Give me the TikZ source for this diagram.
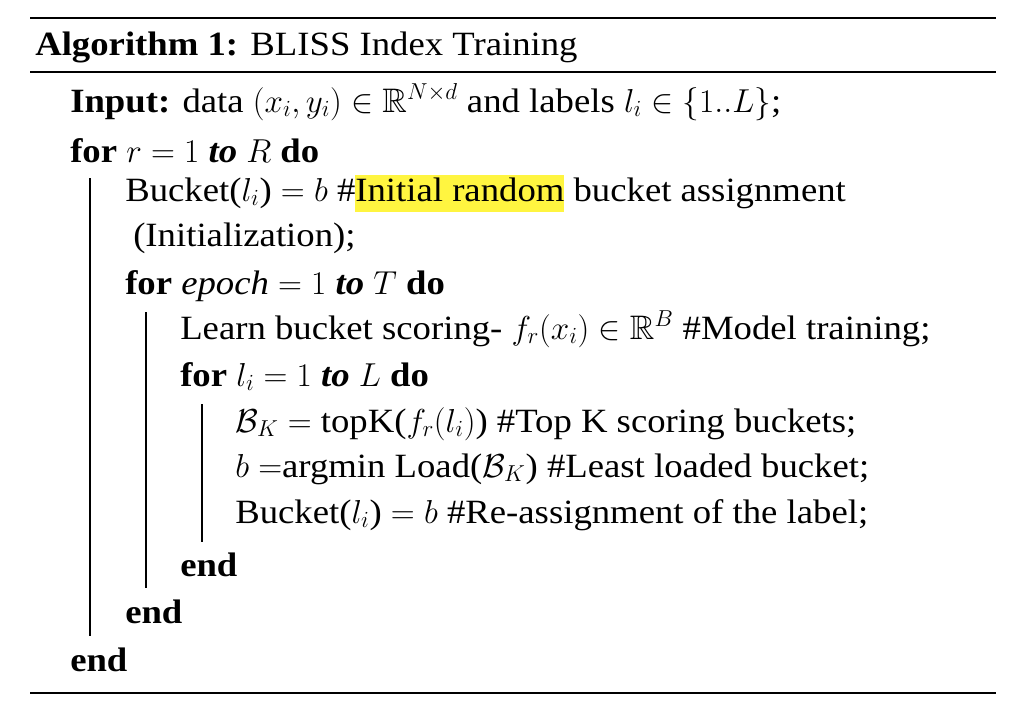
\documentclass[tikz,border=0pt]{standalone}
\usepackage{amssymb}
\usepackage{fontspec}
\setmainfont[FakeStretch=1.08]{Liberation Serif}
\begin{document}
\begin{tikzpicture}[x=0.75pt,y=-0.75pt,
  txt/.style={anchor=base west,inner sep=0pt,font=\fontsize{25.5}{28}\selectfont},
  rulethick/.style={line width=2.2pt},
  bar/.style={line width=0.8pt}]
\useasboundingbox (0,0) rectangle (1016,714);
\draw[rulethick] (30,18) -- (996,18);
\draw[line width=1.5pt] (30,72) -- (996,72);
\draw[rulethick] (30,693) -- (996,693);
\node[txt] (t) at (35,55) {\textbf{Algorithm 1:} BLISS Index Training};
\node[txt] (l1) at (70,112) {\textbf{Input:} data $(x_i,y_i)\in\mathbb{R}^{N\times d}$ and labels $l_i\in\{1..L\}$;};
\node[txt] (l2) at (70,162) {\textbf{for} $r=1$ \textbf{\textit{to}} $R$ \textbf{do}};
\node[txt] (l3) at (125,201) {Bucket($l_i$) $=b$ \#{\setlength{\fboxsep}{0pt}\colorbox{yellow!75}{\strut Initial random}} bucket assignment};
\node[txt] (l4) at (133,246) {(Initialization);};
\node[txt] (l5) at (125,294) {\textbf{for} \textit{epoch} $=1$ \textbf{\textit{to}} $T$ \textbf{do}};
\node[txt] (l6) at (180,339) {Learn bucket scoring- $f_r(x_i)\in\mathbb{R}^B$ \#Model training;};
\node[txt] (l7) at (180,386) {\textbf{for} $l_i=1$ \textbf{\textit{to}} $L$ \textbf{do}};
\node[txt] (l8) at (235,432) {$\mathcal{B}_K=$ topK($f_r(l_i)$) \#Top K scoring buckets;};
\node[txt] (l9) at (235,477) {$b=$argmin Load($\mathcal{B}_K$) \#Least loaded bucket;};
\node[txt] (l10) at (235,523) {Bucket($l_i$) $=b$ \#Re-assignment of the label;};
\node[txt] (l11) at (180,576) {\textbf{end}};
\node[txt] (l12) at (125,623) {\textbf{end}};
\node[txt] (l13) at (70,671) {\textbf{end}};
\draw[bar] (90,178) -- (90,636);
\draw[bar] (146,312) -- (146,588);
\draw[bar] (202,404) -- (202,542);
\end{tikzpicture}
\end{document}
